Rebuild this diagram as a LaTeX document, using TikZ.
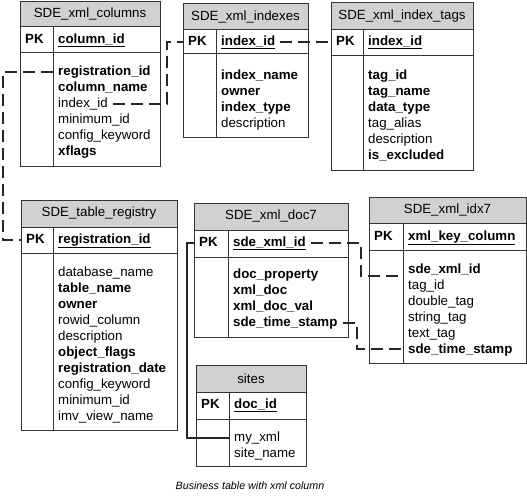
\documentclass[tikz,border=0pt]{standalone}
\usepackage{fontspec}
\setmainfont{Liberation Sans}
\newcommand\fs{\fontsize{13.3}{16}\selectfont}
\newcommand\ertable[9]{%
  \draw[hdr] (#2,#3) rectangle (#4,#5);
  \node[font=\fs, inner sep=0pt] (#1-t) at ({(#2+#4)/2},{(#3+#5)/2}) {#9};
  \draw[tbox] (#2,#5) rectangle (#4,#7);
  \draw[tbox] (#2,#6) -- (#4,#6);
  \draw[tbox] (#8,#5) -- (#8,#7);
}
\tikzset{
  tbox/.style={draw=black!80, line width=1pt},
  hdr/.style={tbox, fill=black!18},
  fld/.style={anchor=west, inner xsep=5pt, inner ysep=0pt, text height=9.5pt, text depth=3pt, font=\fs},
  fb/.style={fld, font=\fs\bfseries},
  conn/.style={line width=1.6pt, draw=black!85, dash pattern=on 12pt off 6pt},
  solidconn/.style={line width=1.6pt, draw=black!85},
}
\begin{document}
\begin{tikzpicture}[x=1pt,y=-1pt]
\useasboundingbox (0,0) rectangle (527,495);

% SDE_xml_columns
\ertable{cols}{20}{2}{160}{27}{53}{166}{53}{SDE\_xml\_columns}
\node[fb] (colsPK) at (20,40) {PK};
\node[fb] (colsPKf) at (53,40) {\underline{column\_id}};
\node[fb] (colsReg) at (53,72) {registration\_id};
\node[fb] (colsName) at (53,88) {column\_name};
\node[fld] (colsIdx) at (53,104) {index\_id};
\node[fld] (colsMin) at (53,120) {minimum\_id};
\node[fld] (colsCfg) at (53,136) {config\_keyword};
\node[fb] (colsXf) at (53,152) {xflags};

% SDE_xml_indexes
\ertable{ix}{183}{4}{308}{30}{54}{137}{216}{SDE\_xml\_indexes}
\node[fb] (ixPK) at (183,42) {PK};
\node[fb] (ixPKf) at (216,42) {\underline{index\_id}};
\node[fb] (ixName) at (216,76) {index\_name};
\node[fb] (ixOwner) at (216,92) {owner};
\node[fb] (ixType) at (216,108) {index\_type};
\node[fld] (ixDesc) at (216,124) {description};

% SDE_xml_index_tags
\ertable{tg}{331}{3}{473}{30}{56}{170}{363}{SDE\_xml\_index\_tags}
\node[fb] (tgPK) at (331,42) {PK};
\node[fb] (tgPKf) at (363,42) {\underline{index\_id}};
\node[fb] (tgId) at (363,76) {tag\_id};
\node[fb] (tgName) at (363,92) {tag\_name};
\node[fb] (tgType) at (363,108) {data\_type};
\node[fld] (tgAlias) at (363,124) {tag\_alias};
\node[fld] (tgDesc) at (363,140) {description};
\node[fb] (tgExcl) at (363,156) {is\_excluded};

% SDE_table_registry
\ertable{reg}{21}{200}{177}{227}{253}{430}{53}{SDE\_table\_registry}
\node[fb] (regPK) at (21,240) {PK};
\node[fb] (regPKf) at (53,240) {\underline{registration\_id}};
\node[fld] (regDb) at (53,273) {database\_name};
\node[fb] (regTab) at (53,289) {table\_name};
\node[fb] (regOwn) at (53,305) {owner};
\node[fld] (regRow) at (53,321) {rowid\_column};
\node[fld] (regDesc) at (53,337) {description};
\node[fb] (regFlags) at (53,353) {object\_flags};
\node[fb] (regDate) at (53,369) {registration\_date};
\node[fld] (regCfg) at (53,385) {config\_keyword};
\node[fld] (regMin) at (53,401) {minimum\_id};
\node[fld] (regImv) at (53,417) {imv\_view\_name};

% SDE_xml_doc7
\ertable{d7}{194}{203}{348}{230}{257}{337}{228}{SDE\_xml\_doc7}
\node[fb] (d7PK) at (194,243) {PK};
\node[fb] (d7PKf) at (228,243) {\underline{sde\_xml\_id}};
\node[fb] (d7Prop) at (228,275) {doc\_property};
\node[fb] (d7Doc) at (228,291) {xml\_doc};
\node[fb] (d7Val) at (228,307) {xml\_doc\_val};
\node[fb] (d7Ts) at (228,323) {sde\_time\_stamp};

% sites
\ertable{st}{196}{365}{306}{392}{419}{466}{229}{sites}
\node[fb] (stPK) at (196,405) {PK};
\node[fb] (stPKf) at (229,405) {\underline{doc\_id}};
\node[fld] (stXml) at (229,438) {my\_xml};
\node[fld] (stName) at (229,454) {site\_name};

% SDE_xml_idx7
\ertable{x7}{369}{197}{526}{223}{250}{363}{403}{SDE\_xml\_idx7}
\node[fb] (x7PK) at (369,237) {PK};
\node[fb] (x7PKf) at (403,237) {\underline{xml\_key\_column}};
\node[fb] (x7Sde) at (403,270) {sde\_xml\_id};
\node[fld] (x7Tag) at (403,286) {tag\_id};
\node[fld] (x7Dbl) at (403,302) {double\_tag};
\node[fld] (x7Str) at (403,318) {string\_tag};
\node[fld] (x7Txt) at (403,334) {text\_tag};
\node[fb] (x7Ts) at (403,350) {sde\_time\_stamp};

% caption
\node[font=\fontsize{10.7}{12}\selectfont\itshape, inner sep=0pt] (cap) at (250,486) {Business table with xml column};

% bend coordinates
\coordinate (c1x) at (3,0);
\coordinate (c2x) at (167,0);
\coordinate (c4x) at (361,0);
\coordinate (c5x) at (357,0);
\coordinate (c6x) at (187,0);

% connectors
\draw[conn] (colsReg.west) -- (colsReg.west -| c1x) |- (regPK.west);
\draw[conn] (colsIdx.east) -- (colsIdx.east -| c2x) |- (ixPK.west);
\draw[conn] (ixPKf.east) -- (ixPKf.east -| tgPK.west);
\draw[conn] (d7PKf.east) -- (d7PKf.east -| c4x) |- ([yshift=-6pt]x7Sde.west);
\draw[conn] (d7Ts.east) -- (d7Ts.east -| c5x) |- ([yshift=1pt]x7Ts.west);
\draw[solidconn] (stXml.west) -- (stXml.west -| c6x) |- (d7PK.west);
\end{tikzpicture}
\end{document}
